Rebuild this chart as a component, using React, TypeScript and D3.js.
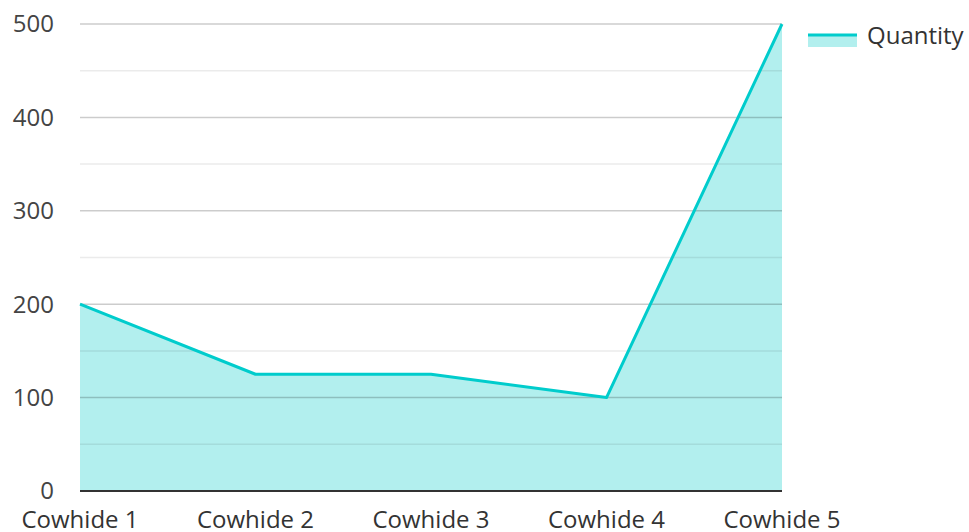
import React from "react";
import * as d3 from "d3";

const categories = ["Cowhide 1", "Cowhide 2", "Cowhide 3", "Cowhide 4", "Cowhide 5"];
const quantity = [200, 125, 125, 100, 500];
const majorTicks = [0, 100, 200, 300, 400, 500];
const minorTicks = [50, 150, 250, 350, 450];
const seriesName = "Quantity";

const W = 969, H = 532;
const M = { left: 80, right: 187, top: 24, bottom: 41 };
const FONT = "'Open Sans', 'Noto Sans', sans-serif";

export default function App() {
  const x = d3.scalePoint<string>().domain(categories).range([M.left, W - M.right]);
  const y = d3.scaleLinear().domain([0, 500]).range([H - M.bottom, M.top]);
  const data = categories.map((c, i) => ({ c, v: quantity[i] }));
  const area = d3.area<{ c: string; v: number }>()
    .x(d => x(d.c)!)
    .y0(y(0))
    .y1(d => y(d.v));
  const line = d3.line<{ c: string; v: number }>()
    .x(d => x(d.c)!)
    .y(d => y(d.v));
  const x0 = M.left, x1 = W - M.right;
  return (
    <svg width={W} height={H} style={{ position: "absolute", left: 0, top: 0 }} fontFamily={FONT}>
      <path d={area(data)!} fill="#b2efee" />
      {minorTicks.map(t => (
        <line key={"m" + t} x1={x0} x2={x1} y1={y(t)} y2={y(t)} stroke="rgba(0,0,0,0.08)" strokeWidth={1.5} />
      ))}
      {majorTicks.filter(t => t > 0).map(t => (
        <line key={"g" + t} x1={x0} x2={x1} y1={y(t)} y2={y(t)} stroke="rgba(0,0,0,0.2)" strokeWidth={1.5} />
      ))}
      <line x1={x0} x2={x1} y1={y(0)} y2={y(0)} stroke="#333" strokeWidth={2} />
      <path d={line(data)!} fill="none" stroke="#00cccc" strokeWidth={3} strokeLinejoin="round" />
      {majorTicks.map(t => (
        <text key={"t" + t} x={54} y={y(t)} dy="0.35em" textAnchor="end" fontSize={24} fill="#444">{t}</text>
      ))}
      {categories.map(c => (
        <text key={c} x={x(c)} y={528} textAnchor="middle" fontSize={24} fill="#333">{c}</text>
      ))}
      <rect x={808} y={35} width={49} height={12} fill="#b2efee" />
      <line x1={808} x2={857} y1={35} y2={35} stroke="#00cccc" strokeWidth={3} />
      <text x={867} y={36} dy="0.35em" fontSize={24} fill="#333">{seriesName}</text>
    </svg>
  );
}
